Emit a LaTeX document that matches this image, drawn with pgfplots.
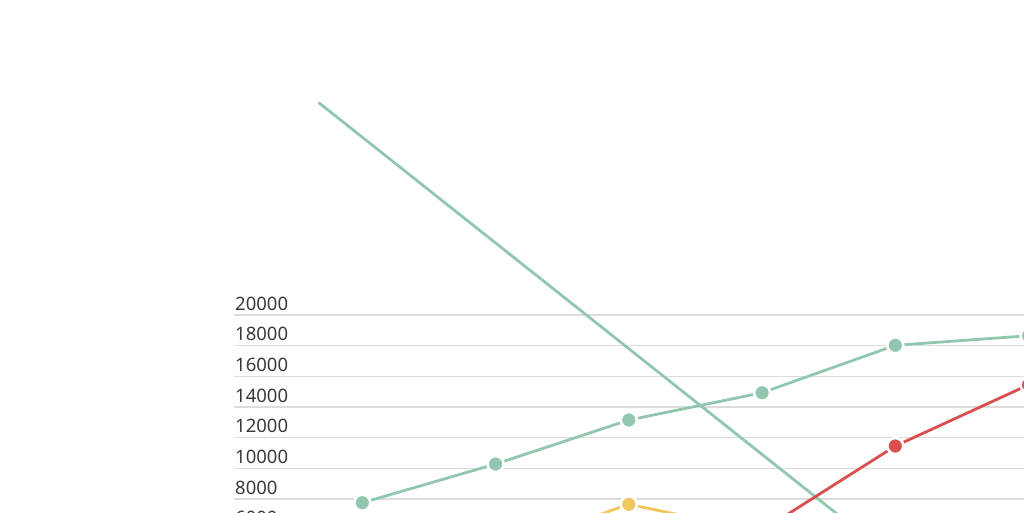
\documentclass[border=0pt]{standalone}
\usepackage{pgfplots}
\pgfplotsset{compat=1.18}
\usepackage{fontspec}
\setmainfont{Noto Sans}
\definecolor{cgreen}{RGB}{145,199,174}
\definecolor{cred}{RGB}{217,78,78}
\definecolor{cyellow}{RGB}{240,199,94}
\definecolor{cgrid}{RGB}{220,220,220}
\definecolor{ctext}{RGB}{58,58,58}
\begin{document}
\begin{tikzpicture}
\useasboundingbox (0,0) rectangle (1024pt,512pt);
\clip (0,0) rectangle (1024pt,512pt);
\begin{axis}[
  at={(234pt,-109.7pt)}, anchor=south west,
  scale only axis, width=927.8pt, height=621.7pt,
  xmin=-0.963, xmax=6, ymin=0, ymax=40544,
  axis line style={draw=none},
  xtick=\empty,
  ytick={0,2000,...,20000},
  scaled y ticks=false,
  major tick length=0pt,
  ymajorgrids, grid style={color=cgrid, line width=1.6pt},
  yticklabel style={anchor=south west, inner sep=0pt, xshift=1pt, yshift=4.5pt,
    font=\fontsize{18.5}{20}\selectfont, text=ctext},
  /pgf/number format/.cd, 1000 sep={}, assume math mode=true,
  /pgfplots/.cd,
  clip=false,
  every axis plot/.append style={line width=2.8pt},
  mymark/.style={mark=*, mark size=8pt, mark options={draw=white, line width=2.6pt}},
]
\addplot[cgreen, line width=2.8pt] coordinates {(-0.3285,33860) (4.582,0)};
\addplot[cyellow, mymark] coordinates {(1,4600) (2,7654) (3,5850)};
\addplot[cred, mymark] coordinates {(3,5950) (4,11456) (5,15448)};
\addplot[cgreen, mymark] coordinates {(0,7758) (1,10282) (2,13152) (3,14932) (4,18024) (5,18650)};
\end{axis}
\end{tikzpicture}
\end{document}
